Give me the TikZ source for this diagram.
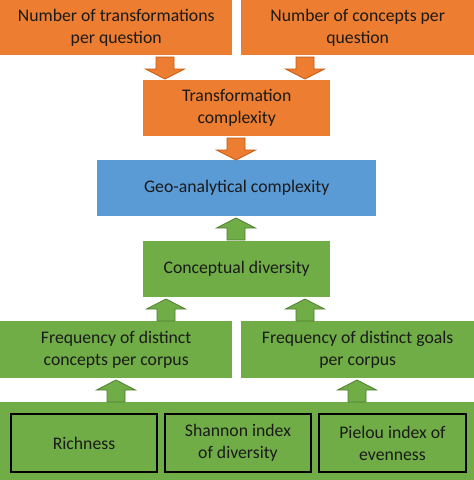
\documentclass[tikz,border=0pt]{standalone}
\usepackage{fontspec}
\setmainfont{Carlito}
\definecolor{orng}{HTML}{ED7D31}
\definecolor{orngdark}{HTML}{C55A11}
\definecolor{blu}{HTML}{5B9BD5}
\definecolor{grn}{HTML}{70AD47}
\definecolor{grndark}{HTML}{507E32}
\definecolor{txt}{HTML}{1A1A1A}
\tikzset{
  box/.style={draw=none, inner sep=0pt, align=center, anchor=north west,
    font=\fontsize{17.7}{22}\selectfont, text=txt},
  inbox/.style={box, draw=black, line width=2pt},
  pics/blockarrow/.style={code={
    \draw[pic actions] (-9,-11) -- (-9,1) -- (-19.5,1) -- (0,11) -- (19.5,1) -- (9,1) -- (9,-11) -- cycle;}},
  downor/.style={fill=orng, draw=orngdark, line width=0.8pt},
  upgr/.style={fill=grn, draw=grndark, line width=0.8pt, rotate=180},
}
\begin{document}
\begin{tikzpicture}[x=1pt,y=-1pt]
\useasboundingbox (0,0) rectangle (474,480);
\node[box, fill=orng, minimum width=232pt, minimum height=55pt] (nt) at (0,0) {Number of transformations\\per question};
\node[box, fill=orng, minimum width=233pt, minimum height=55pt] (nc) at (241,0) {Number of concepts per\\question};
\node[box, fill=orng, minimum width=187pt, minimum height=56pt] (tc) at (143,80) {Transformation\\complexity};
\node[box, fill=blu, minimum width=279pt, minimum height=56pt] (geo) at (97,160) {Geo-analytical complexity};
\node[box, fill=grn, minimum width=187pt, minimum height=56pt] (cd) at (143,241) {Conceptual diversity};
\node[box, fill=grn, minimum width=232pt, minimum height=57pt] (fc) at (0,321) {Frequency of distinct\\concepts per corpus};
\node[box, fill=grn, minimum width=233pt, minimum height=57pt] (fg) at (241,321) {Frequency of distinct goals\\per corpus};
\node[box, fill=grn, minimum width=474pt, minimum height=78pt] (bot) at (0,402) {};
\node[inbox, fill=grn, minimum width=146pt, minimum height=58pt] (rich) at (10,413) {Richness};
\node[inbox, fill=grn, minimum width=146pt, minimum height=58pt] (shan) at (164,413) {Shannon index\\of diversity};
\node[inbox, fill=grn, minimum width=147pt, minimum height=58pt] (piel) at (318,413) {Pielou index of\\evenness};
% block arrows
\pic[downor] at (165,68) {blockarrow};
\pic[downor] at (305,68) {blockarrow};
\pic[downor] at (236,149) {blockarrow};
\pic[upgr] at (236,229) {blockarrow};
\pic[upgr] at (166,310) {blockarrow};
\pic[upgr] at (305,310) {blockarrow};
\pic[upgr] at (116,391) {blockarrow};
\pic[upgr] at (357,391) {blockarrow};
\end{tikzpicture}
\end{document}
